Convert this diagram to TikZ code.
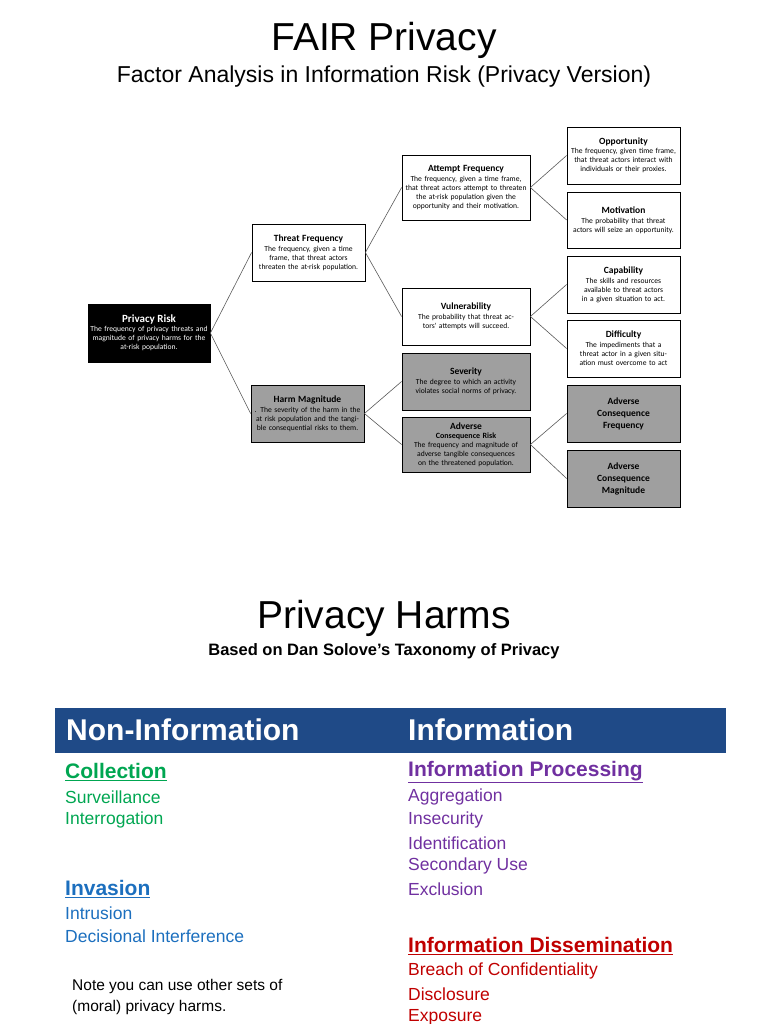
\documentclass[tikz,border=0pt]{standalone}
\usepackage{fontspec}
\setmainfont{Liberation Sans}
\newfontfamily\cbf{Carlito}
\begin{document}
\begin{tikzpicture}[x=1pt,y=-1pt,
  bx/.style={draw=black,line width=0.8pt,fill=white,align=center,inner sep=1pt,font=\cbf\fontsize{7.6}{9}\selectfont,text width=#1},
  gbx/.style={bx=#1,fill=gray!75},
  ln/.style={draw=gray!70!black,line width=0.6pt}]
\useasboundingbox (0,0) rectangle (768,1024);
\clip (0,0) rectangle (768,1024);
\node (t1) at (384,40) {\fontsize{39}{44}\selectfont FAIR Privacy};
\node (t2) at (384,77) {\fontsize{23}{27}\selectfont Factor Analysis in Information Risk (Privacy Version)};
\node[bx=118,fill=black,text=white,minimum width=122,minimum height=58] (pr) at (149,333) {{\cbf\bfseries\fontsize{11}{13}\selectfont Privacy Risk}\\The frequency of privacy threats and magnitude of privacy harms for the\\at-risk population.};
\node[bx=109,minimum width=113,minimum height=57] (tf) at (308.5,252.5) {{\cbf\bfseries\fontsize{9.5}{11}\selectfont Threat Frequency}\\[1pt]The frequency, given a time frame, that threat actors threaten the at-risk population.};
\node[gbx=109,minimum width=113,minimum height=57] (hm) at (307.5,413.5) {{\cbf\bfseries\fontsize{9.5}{11}\selectfont Harm Magnitude}\\[1pt]. The severity of the harm in the at risk population and the tangible consequential risks to them.};
\node[bx=124,minimum width=128,minimum height=65] (af) at (466,187.5) {{\cbf\bfseries\fontsize{9.5}{11}\selectfont Attempt Frequency}\\[1pt]The frequency, given a time frame, that threat actors attempt to threaten the at-risk population given the opportunity and their motivation.};
\node[bx=124,minimum width=128,minimum height=57] (vu) at (466,316.5) {{\cbf\bfseries\fontsize{9.5}{11}\selectfont Vulnerability}\\[1pt]The probability that threat actors' attempts will succeed.};
\node[gbx=124,minimum width=128,minimum height=57] (se) at (466,381.5) {{\cbf\bfseries\fontsize{9.5}{11}\selectfont Severity}\\[1pt]The degree to which an activity violates social norms of privacy.};
\node[gbx=124,minimum width=128,minimum height=55] (ac) at (466,444.5) {{\cbf\bfseries\fontsize{9.5}{10}\selectfont Adverse}\\{\cbf\bfseries\fontsize{8}{9}\selectfont Consequence Risk}\\The frequency and magnitude of adverse tangible consequences on the threatened population.};
\node[bx=109,minimum width=113,minimum height=57] (op) at (623.5,155.5) {{\cbf\bfseries\fontsize{9.5}{11}\selectfont Opportunity}\\The frequency, given time frame, that threat actors interact with individuals or their proxies.};
\node[bx=109,minimum width=113,minimum height=56] (mo) at (623.5,220) {{\cbf\bfseries\fontsize{9.5}{11}\selectfont Motivation}\\[1pt]The probability that threat actors will seize an opportunity.};
\node[bx=109,minimum width=113,minimum height=57] (ca) at (623.5,284.5) {{\cbf\bfseries\fontsize{9.5}{11}\selectfont Capability}\\[1pt]The skills and resources available to threat actors in a given situation to act.};
\node[bx=109,minimum width=113,minimum height=57] (di) at (623.5,348.5) {{\cbf\bfseries\fontsize{9.5}{11}\selectfont Difficulty}\\[1pt]The impediments that a threat actor in a given situation must overcome to act};
\node[gbx=109,minimum width=113,minimum height=57,font=\cbf\bfseries\fontsize{9.5}{12}\selectfont] (cf) at (623.5,413.5) {Adverse\\Consequence\\Frequency};
\node[gbx=109,minimum width=113,minimum height=57,font=\cbf\bfseries\fontsize{9.5}{12}\selectfont] (cm) at (623.5,478.5) {Adverse\\Consequence\\Magnitude};
\foreach \a/\b in {pr/tf,pr/hm,tf/af,tf/vu,hm/se,hm/ac,af/op,af/mo,vu/ca,vu/di,ac/cf,ac/cm}
  \draw[ln] (\a.east) -- (\b.west);
\node (h1) at (384,618) {\fontsize{39}{44}\selectfont Privacy Harms};
\node (h2) at (384,651) {\bfseries\fontsize{16.5}{20}\selectfont Based on Dan Solove’s Taxonomy of Privacy};
\definecolor{bar}{HTML}{1F4A87}
\definecolor{grn}{HTML}{00A651}
\definecolor{blu}{HTML}{1C6FBE}
\definecolor{pur}{HTML}{7030A0}
\definecolor{rdd}{HTML}{C00000}
\fill[bar] (55,708) rectangle (726,753);
\node[anchor=west,text=white,font=\bfseries\fontsize{30}{34}\selectfont,inner sep=0] (ni) at (66,730) {Non-Information};
\node[anchor=west,text=white,font=\bfseries\fontsize{30}{34}\selectfont,inner sep=0] (in) at (408,730) {Information};
\tikzset{hd/.style={anchor=west,inner sep=0,font=\bfseries\fontsize{21}{24}\selectfont},it/.style={anchor=west,inner sep=0,font=\fontsize{17.5}{20}\selectfont}}
\node[hd,text=grn] (c0) at (65,772) {\underline{Collection}};
\node[it,text=grn] (c1) at (65,797) {Surveillance};
\node[it,text=grn] (c2) at (65,820) {Interrogation};
\node[hd,text=blu] (v0) at (65,889) {\underline{Invasion}};
\node[it,text=blu] (v1) at (65,913) {Intrusion};
\node[it,text=blu] (v2) at (65,936) {Decisional Interference};
\node[anchor=west,inner sep=0,font=\fontsize{15.5}{21}\selectfont,align=left] (nt) at (72,997) {Note you can use other sets of\\(moral) privacy harms.};
\node[hd,text=pur] (p0) at (408,772) {\underline{Information Processing}};
\node[it,text=pur] (p1) at (408,797) {Aggregation};
\node[it,text=pur] (p2) at (408,820) {Insecurity};
\node[it,text=pur] (p3) at (408,843) {Identification};
\node[it,text=pur] (p4) at (408,866) {Secondary Use};
\node[it,text=pur] (p5) at (408,889) {Exclusion};
\node[hd,text=rdd] (d0) at (408,946) {\underline{Information Dissemination}};
\node[it,text=rdd] (d1) at (408,971) {Breach of Confidentiality};
\node[it,text=rdd] (d2) at (408,994) {Disclosure};
\node[it,text=rdd] (d3) at (408,1017) {Exposure};
\end{tikzpicture}
\end{document}
